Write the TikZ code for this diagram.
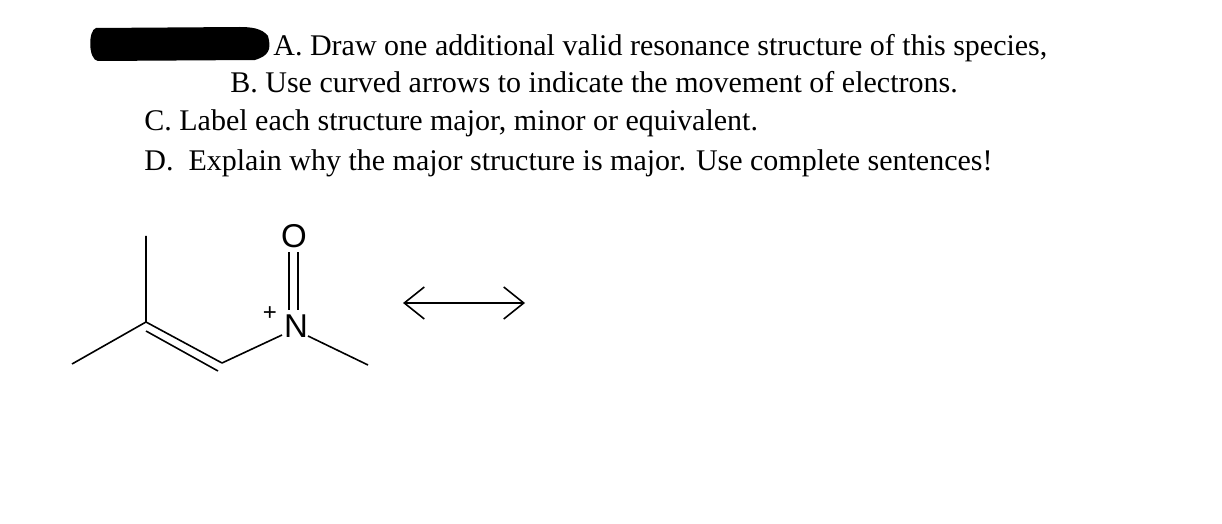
\documentclass[tikz,border=0pt]{standalone}
\usepackage{fontspec}
\usetikzlibrary{calc,arrows.meta}
\setmainfont{Liberation Serif}
\newfontfamily\molfont{Liberation Sans}
\begin{document}
\begin{tikzpicture}[x=0.5pt,y=-0.5pt,
  txt/.style={anchor=base west,inner sep=0pt,font=\fontsize{15}{18}\selectfont},
  atom/.style={inner sep=1pt,font=\molfont\fontsize{16.5}{18}\selectfont},
  bond/.style={line width=0.8pt}]
\useasboundingbox (0,0) rectangle (1222,524);
\fill[black] (96,28) .. controls (88,30) and (88,60) .. (98,61) -- (255,60) .. controls (268,56) and (272,50) .. (268,36) .. controls (262,28) and (250,27) .. (240,27) -- cycle;
\node[txt] (la) at (273,56) {A. Draw one additional valid resonance structure of this species,};
\node[txt] (lb) at (230,93) {B. Use curved arrows to indicate the movement of electrons.};
\node[txt] (lc) at (144,131) {C. Label each structure major, minor or equivalent.};
\node[txt] (ld) at (144,170) {D.\ \ Explain why the major structure is major. Use complete sentences!};
\coordinate (me) at (146,236);
\coordinate (c2) at (146,322);
\coordinate (le) at (72,364);
\coordinate (c1) at (222,363);
\coordinate (ne) at (368,365);
\node[atom] (n) at (296,326) {N};
\node[atom] (o) at (294,236) {O};
\node[atom,font=\molfont\fontsize{12}{14}\selectfont] (p) at (270,314) {+};
\draw[bond] (me) -- (c2) -- (le);
\draw[bond] (c2) -- (c1);
\draw[bond] (c1) -- ($(n.center)+(-14,9)$);
\draw[bond] ($(n.center)+(12,10)$) -- (ne);
\draw[bond] (146,331) -- (218,371);
\draw[bond] (289,252) -- (289,310);
\draw[bond] (298,252) -- (298,310);
\coordinate (a1) at (403,303);
\coordinate (a2) at (525,303);
\draw[bond,{Straight Barb[length=10pt,width=16pt]}-{Straight Barb[length=10pt,width=16pt]}] (a1) -- (a2);
\end{tikzpicture}
\end{document}
